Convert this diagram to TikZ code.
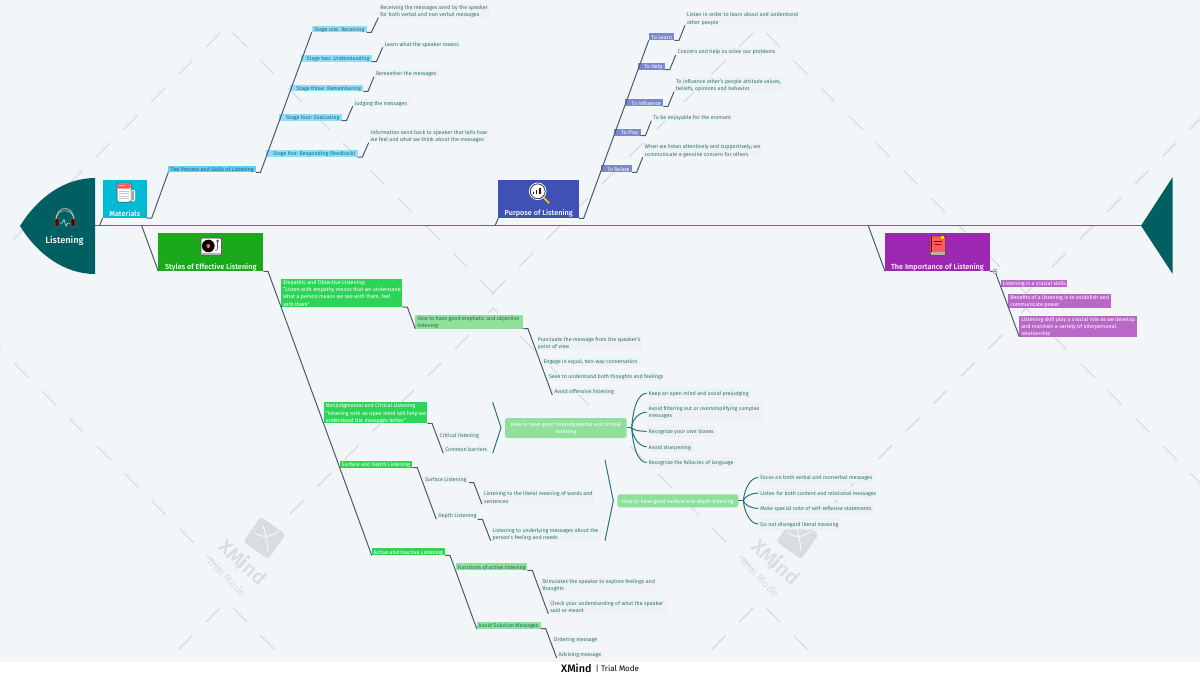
\documentclass[tikz,border=0pt]{standalone}
\usepackage{fontspec}
\setmainfont{Fira Sans}[BoldFont={Fira Sans Medium}]
\usetikzlibrary{calc}
\definecolor{bgc}{HTML}{F3F6F9}
\definecolor{wmc}{HTML}{D8DDE1}
\definecolor{headc}{HTML}{005F60}
\definecolor{spinec}{HTML}{3F7C85}
\definecolor{linec}{HTML}{4A5A6E}
\definecolor{tealt}{HTML}{2A7775}
\definecolor{darkt}{HTML}{1E6A68}
\definecolor{leafc}{HTML}{EFF1F3}
\definecolor{matc}{HTML}{00BBD6}
\definecolor{purc}{HTML}{3F51B5}
\definecolor{stylec}{HTML}{1BA81B}
\definecolor{impc}{HTML}{9C27B0}
\definecolor{blue1}{HTML}{67CCF7}
\definecolor{blue2}{HTML}{90DDFB}
\definecolor{ind2}{HTML}{7B87CF}
\definecolor{pur2}{HTML}{BA68C8}
\definecolor{gr1}{HTML}{2ED457}
\definecolor{gr2}{HTML}{8FE09B}
\tikzset{
  base/.style={inner sep=0pt,outer sep=0pt,font=\fontsize{5.35}{7.1}\selectfont},
  leaf/.style={base,fill=leafc,text=tealt},
  rleaf/.style={leaf,rounded corners=2.5pt},
  stage/.style={base,fill=blue2,text=darkt},
  proc/.style={base,fill=blue1,text=darkt},
  indb/.style={base,fill=ind2,text=white},
  purb/.style={base,fill=pur2,text=white},
  grb/.style={base,fill=gr1,text=white},
  grl/.style={base,fill=gr2,text=darkt},
  grr/.style={base,fill=gr2,text=white,rounded corners=2.5pt},
  mainbox/.style={inner sep=0pt,outer sep=0pt},
  maintxt/.style={inner sep=0pt,outer sep=0pt,text=white,font=\fontsize{7.3}{8}\selectfont\bfseries},
  branch/.style={draw=linec,line width=1pt},
  curve/.style={draw=spinec!70!headc,line width=1pt},
  wm/.style={draw=wmc,line width=1.4pt},
  wmtext/.style={inner sep=0pt,text=wmc},
}
\newcommand{\bxl}[7][0]{%
  \pgfmathsetmacro\bxw{#5-#3}\pgfmathsetmacro\bxh{#6-#4}%
  \node[#2,anchor=north west,minimum width=\bxw pt,minimum height=\bxh pt] (#7) at (#3,#4)
}
\newcommand{\shf}[1]{\smash{\raisebox{-2.05pt}{#1}}}
\newcommand{\lt}[2][2]{\shf{\makebox[\bxw pt][l]{\hspace{#1pt}\begin{tabular}{@{}l@{}}#2\end{tabular}}}}
\newcommand{\ct}[1]{\shf{\makebox[\bxw pt][c]{\begin{tabular}{@{}c@{}}#1\end{tabular}}}}
\newcommand{\rt}[1]{\shf{\makebox[\bxw pt][r]{\begin{tabular}{@{}r@{}}#1\end{tabular}\hspace{2.4pt}}}}
\newcommand{\dashes}[5]{\foreach \k in {0,...,#3} \draw[wm] ({#1+#4*27.5*\k/14},{#2+27.5*\k}) -- ++(#4,#5);}
\begin{document}
\begin{tikzpicture}[x=1pt,y=-1pt]
\useasboundingbox (0,0) rectangle (1200,677);
\fill[bgc] (0,0) rectangle (1200,677);
% watermark lattice
\dashes{233}{33}{9}{14}{14}
\dashes{766}{33}{9}{14}{14}
\dashes{220}{33}{9}{-14}{14}
\dashes{753}{33}{9}{-14}{14}
\dashes{1286}{33}{9}{-14}{14}
\dashes{-13}{336}{8}{14}{14}
\dashes{520}{336}{8}{14}{14}
\dashes{1053}{336}{5}{14}{14}
\dashes{469}{335}{8}{-14}{14}
\dashes{1002}{335}{8}{-14}{14}
\dashes{233}{608}{1}{14}{14}
\dashes{766}{608}{1}{14}{14}
\dashes{220}{608}{1}{-14}{14}
\dashes{753}{608}{1}{-14}{14}
\draw[wm] (488,313) -- (493,308) -- (498,313);
\draw[wm] (1021,313) -- (1026,308) -- (1031,313);
% watermark logos
\foreach \dx/\nm in {0/a,533/b}{
  \begin{scope}[shift={(\dx,0)}]
    \node[fill=wmc,minimum size=30.5pt,rounded corners=3pt,rotate=-35,inner sep=0pt] (logo\nm) at (264.5,538) {};
    \draw[bgc,line width=1.1pt,line cap=round] (255,533) .. controls (263,538) and (268,538) .. (279,531);
    \draw[bgc,line width=1.1pt,line cap=round] (263,525) .. controls (266,535) and (267,542) .. (268,551);
    \node[wmtext,rotate=-42,font=\fontsize{20}{21}\selectfont\bfseries] (wmx\nm) at (243.5,561.5) {XMind};
    \node[wmtext,rotate=-45,font=\fontsize{10.5}{11}\selectfont] (wmt\nm) at (226.5,577) {Trial Mode};
  \end{scope}
}
% spine, head, tail
\coordinate (spL) at (95,225.7);
\coordinate (spR) at (1141,225.7);
\draw[draw=spinec,line width=1.2pt] (spL) -- (spR);
\fill[headc] (20,226) .. controls (38,197) and (65,178) .. (95,178) -- (95,274) .. controls (65,274) and (38,255) .. (20,226) -- cycle;
\fill[headc] (1141,225.7) -- (1172.7,177) -- (1172.7,274) -- cycle;
\node[inner sep=0pt,text=white,font=\fontsize{9.2}{10}\selectfont\bfseries] (root) at (64.5,240.7) {Listening};
% headphones
\draw[gray!70!white,line width=1.1pt] (56,222) .. controls (55,204) and (75,204) .. (74,222);
\draw[white!70!gray,line width=.4pt] (56,222) .. controls (55,207) and (75,207) .. (74,222);
\fill[red!35!black,draw=gray!60,line width=.3pt,rounded corners=1pt] (55,218.5) rectangle (59,226.5);
\fill[red!35!black,draw=gray!60,line width=.3pt,rounded corners=1pt] (71,218.5) rectangle (75,226.5);
\draw[white,line width=.5pt] (60,223) -- (62,223) -- (64,219.5) -- (66,226) -- (68,223) -- (70,223);
% main boxes
\node[mainbox,fill=matc,anchor=north west,minimum width=44pt,minimum height=38pt] (materials) at (102.7,180) {};
\node[maintxt] (materialsT) at (124.7,213.7) {Materials};
\node[mainbox,fill=purc,anchor=north west,minimum width=80.7pt,minimum height=38.3pt] (purpose) at (498.3,180) {};
\node[maintxt] (purposeT) at (538.7,213.7) {Purpose of Listening};
\node[mainbox,fill=stylec,anchor=north west,minimum width=105pt,minimum height=38pt] (styles) at (158.3,233.3) {};
\node[maintxt] (stylesT) at (210.8,267) {Styles of Effective Listening};
\node[mainbox,fill=impc,anchor=north west,minimum width=105pt,minimum height=38pt] (importance) at (885,233.3) {};
\node[maintxt] (importanceT) at (937.5,267) {The Importance of Listening};
% icons
\draw[white!70!gray,line width=.4pt,fill=white,rounded corners=1pt] (130,190) rectangle (135,201);
\fill[gray!70] (131.5,191) rectangle (133.5,200);
\draw[gray!30!black,line width=.5pt,fill=white,rounded corners=1.2pt] (117,183) rectangle (131,202);
\fill[red!65!white,rounded corners=.8pt] (117.4,183.4) rectangle (130.6,188.5);
\fill[white!70!red] (118.5,184.6) rectangle (125,185.6);
\foreach \yy in {191,193.5,196,198.5} \draw[gray!45,line width=.5pt] (119,\yy) -- (129,\yy);
% turntable
\draw[gray!40!black,line width=.5pt,fill=white,rounded corners=1.2pt] (201,238) rectangle (221.5,255.5);
\fill[gray!60] (201.4,253) rectangle (221.1,255.1);
\fill[black] (208.3,246) circle (6.3);
\fill[red!70!white] (208.3,246) circle (2);
\fill[white] (208.3,246) circle (.5);
\fill[gray!70!black] (217.5,241) circle (1.5);
\draw[gray!70!black,line width=.7pt] (217.5,241) -- (217.5,249) -- (215.5,251);
% magnifier
\draw[yellow!70!orange,line width=1.6pt] (543,197) -- (549,203);
\draw[gray!30!black,line width=.4pt] (542,196) -- (544,198);
\draw[white,line width=.9pt] (537.7,191.3) circle (8.3);
\draw[gray!40!black,line width=.7pt,fill=white] (537.7,191.3) circle (7.4);
\fill[gray!20!black] (532.5,191.5) rectangle (534.3,194.2);
\fill[gray!20!black] (535.5,189.7) rectangle (537.3,194.2);
\fill[gray!20!black] (538.5,187.8) rectangle (540.5,194.2);
% book
\draw[gray!50!black,line width=.5pt,fill=red!65!white,rounded corners=1.5pt] (930,236) rectangle (945.5,255.5);
\fill[gray!60] (931,252) rectangle (945,255);
\fill[yellow!80!orange] (941,236.3) rectangle (943.5,239);
\fill[red!50!black] (934,241) rectangle (942,242);
\fill[red!50!black] (935,244) rectangle (941,245);
\draw[red!50!black,line width=.8pt] (931.7,237) -- (931.7,251.5);
% process branch
\bxl{proc}{168.3}{165.7}{256}{172.3}{process} {\ct{The Process and Skills of Listening}};
\bxl{stage}{311.7}{25.7}{366.7}{32.3}{st1} {\rt{Stage one: Receiving}};
\bxl{stage}{301}{55}{371.7}{61.7}{st2} {\rt{Stage two: Understanding}};
\bxl{stage}{290}{84.7}{363.3}{91.3}{st3} {\rt{Stage three: Remembering}};
\bxl{stage}{279.3}{114}{341.7}{120.7}{st4} {\rt{Stage four: Evaluating}};
\bxl{stage}{266}{150.3}{357.7}{157}{st5} {\rt{Stage five: Responding (feedback)}};
\bxl{leaf}{378.3}{4}{490}{17.7}{le1} {\lt{Receiving the messages send by the speaker\\for both verbal and non verbal messages}};
\bxl{leaf}{382.7}{40.7}{459.3}{47.3}{le2} {\lt{Learn what the speaker means}};
\bxl{leaf}{374}{70}{439.3}{76.7}{le3} {\lt{Remember the messages}};
\bxl{leaf}{352.7}{99.3}{411.7}{106.3}{le4} {\lt{Judging the messages}};
\bxl{leaf}{368.7}{128.7}{488.3}{142.7}{le5} {\lt{Information send back to speaker that tells how\\we feel and what we think about the messages}};
% purpose branch
\bxl{indb}{648.7}{33.3}{674.3}{40.3}{pu1} {\rt{To Learn}};
\bxl{indb}{637.7}{62.7}{665}{69.7}{pu2} {\rt{To Help}};
\bxl{indb}{624.7}{99.3}{663.3}{106.3}{pu3} {\rt{To Influence}};
\bxl{indb}{613.7}{128.7}{640.7}{135.7}{pu4} {\rt{To Play}};
\bxl{indb}{600.7}{165.3}{632}{172.3}{pu5} {\rt{To Relate}};
\bxl{leaf}{685}{11.3}{798.3}{25.3}{pl1} {\lt{Listen in order to learn about and understand\\other people}};
\bxl{leaf}{675.7}{48.3}{776.7}{55}{pl2} {\lt{Concern and help us solve our problems}};
\bxl{leaf}{674}{77.3}{782.7}{91.7}{pl3} {\lt{To influence other's people attitude values,\\beliefs, opinions and behavior}};
\bxl{leaf}{651.3}{114}{731.7}{120.7}{pl4} {\lt{To be enjoyable for the moment}};
\bxl{leaf}{642.7}{143.3}{762.3}{157.3}{pl5} {\lt{When we listen attentively and supportively, we\\communicate a genuine concern for others}};
% importance
\bxl{purb}{1000.7}{279.7}{1066.7}{286.7}{im1} {\lt{Listening is a crucial skills}};
\bxl{purb}{1008.3}{294}{1110.7}{308}{im2} {\lt{Benefits of a listening is to establish and\\communicate power}};
\bxl{purb}{1019.3}{315.7}{1137.3}{336.7}{im3} {\lt{Listening skill play a crucial role as we develop\\and maintain a variety of interpersonal\\relationship}};
% styles
\bxl{grb}{281.3}{279.3}{402.3}{307}{em} {\lt{Empathic and Objective Listening:\\"Listen with empathy means that we understand\\what a person means we see with them, feel\\with them"}};
\bxl{grl}{415.3}{315}{523.3}{328.7}{emh} {\lt{How to have good emphatic and objective\\listening}};
\bxl{leaf}{535.8}{335}{642}{350}{em1} {\lt{Punctuate the message from the speaker's\\point of view}};
\bxl{leaf}{541.6}{357.5}{640.5}{366}{em2} {\lt{Engage in equal, two-way conversation}};
\bxl{leaf}{547}{372.5}{663}{381}{em3} {\lt{Seek to understand both thoughts and feelings}};
\bxl{leaf}{552.3}{388}{616.7}{395}{em4} {\lt{Avoid offensive listening}};
\bxl{grb}{323.7}{402.3}{427.3}{423.3}{no} {\lt{Nonjudgmental and Critical Listening\\"listening with an open mind will help we\\understand the messages better"}};
\bxl{leaf}{437.7}{431.3}{481}{438.7}{no1} {\lt{Critical listening}};
\bxl{leaf}{443.3}{446}{488.3}{453.3}{no2} {\lt{Common barriers}};
\bxl{grr}{505}{418}{626.7}{438}{noh} {\ct{How to have good nonjudgmental and critical\\listening}};
\bxl{rleaf}{646.7}{388}{751}{398.7}{na} {\lt{Keep an open mind and avoid prejudging}};
\bxl{rleaf}{646.7}{402.7}{762.7}{421.7}{nb} {\lt{Avoid filtering out or oversimplifying complex\\messages}};
\bxl{rleaf}{646.7}{425.7}{716}{437}{nc} {\lt{Recognize your own biases}};
\bxl{rleaf}{646.7}{441.3}{694.3}{452.3}{nd} {\lt{Avoid sharpening}};
\bxl{rleaf}{646.7}{457}{737}{468}{ne} {\lt{Recognize the fallacies of language}};
\bxl{grb}{339.7}{461}{412.3}{467.7}{su} {\lt{Surface and Depth Listening}};
\bxl{leaf}{423}{475.7}{469}{482.7}{su1} {\lt{Surface Listening}};
\bxl{leaf}{436.3}{512}{477.7}{519.3}{su2} {\lt{Depth Listening}};
\bxl{leaf}{482}{490.3}{594.3}{504.3}{su1a} {\lt{Listening to the literal meaning of words and\\sentences}};
\bxl{leaf}{490.7}{526.7}{601.3}{540.7}{su2a} {\lt{Listening to underlying messages about the\\person's feeling and needs}};
\bxl{grr}{617.3}{494.3}{738.3}{507.3}{suh} {\ct{How to have good surface and depth listening}};
\bxl{rleaf}{758.3}{472}{875}{483}{sa} {\lt{Focus on both verbal and nonverbal messages}};
\bxl{rleaf}{758.3}{487.3}{877.3}{498.7}{sb} {\lt{Listen for both content and relational messages}};
\bxl{rleaf}{758.3}{503}{874.3}{514}{sc} {\lt{Make special note of self-reflexive statements}};
\bxl{rleaf}{758.3}{518.3}{841}{529.7}{sd} {\lt{Do not disregard literal meaning}};
\bxl{grb}{371.7}{548.3}{445}{555.3}{ac} {\lt{Active and Inactive Listening}};
\bxl{grl}{455.7}{563.3}{527.3}{570.3}{ac1} {\lt{Functions of active listening}};
\bxl{grl}{476.7}{621.7}{540.7}{628.7}{ac2} {\lt{Avoid Solution Messages}};
\bxl{leaf}{540.3}{578}{657}{592}{ac1a} {\lt{Stimulates the speaker to explore feelings and\\thoughts}};
\bxl{leaf}{548.3}{599.7}{666.7}{613.7}{ac1b} {\lt{Check your understanding of what the speaker\\said or meant}};
\bxl{leaf}{551.7}{636}{599.3}{643.3}{ac2a} {\lt{Ordering message}};
\bxl{leaf}{556.7}{650.7}{604.3}{658}{ac2b} {\lt{Advising message}};
% connectors
\coordinate (sp1) at (99.5,225.7);
\coordinate (sp2) at (495,225.7);
\coordinate (sp3) at (141.7,225.7);
\coordinate (sp4) at (868.3,225.7);
\draw[branch] (sp1) -- (materials.south west);
\draw[branch] (sp2) -- (purpose.south west);
\draw[branch] (sp3) -- (styles.south west);
\draw[branch] (sp4) -- (importance.south west);
\draw[branch] (materials.south east) -- ++(5,0) -- (process.south west);
\draw[branch] (process.south east) -- ++(4.5,0) -- (st1.south west);
\draw[branch] (st1.south east) -- ++(4.7,0) -- (le1.south west);
\draw[branch] (st2.south east) -- ++(4.7,0) -- (le2.south west);
\draw[branch] (st3.south east) -- ++(4.7,0) -- (le3.south west);
\draw[branch] (st4.south east) -- ++(4.7,0) -- (le4.south west);
\draw[branch] (st5.south east) -- ++(4.7,0) -- (le5.south west);
\draw[branch] (purpose.south east) -- ++(4.7,0) -- (pu1.south west);
\draw[branch] (pu1.south east) -- ++(4.7,0) -- (pl1.south west);
\draw[branch] (pu2.south east) -- ++(4.7,0) -- (pl2.south west);
\draw[branch] (pu3.south east) -- ++(4.7,0) -- (pl3.south west);
\draw[branch] (pu4.south east) -- ++(4.7,0) -- (pl4.south west);
\draw[branch] (pu5.south east) -- ++(4.7,0) -- (pl5.south west);
\draw[branch] (importance.south east) -- ++(5,0) coordinate (impc1) -- (im3.south west);
\draw[draw=gray!80!black,line width=.4pt,fill=white] (impc1) circle (2.2);
\draw[gray!80!black,line width=.4pt] ($(impc1)+(-1.2,0)$) -- ($(impc1)+(1.2,0)$);
\draw[branch] (styles.south east) -- ++(4.7,0) -- (ac.south west);
\draw[branch] (em.south east) -- ++(5,0) -- (emh.south west);
\draw[branch] (emh.south east) -- ++(4.7,0) -- (em4.south west);
\draw[branch] (no.south east) -- ++(4.7,0) -- (no2.south west);
\draw[branch] (su.south east) -- ++(5,0) -- (su2.south west);
\draw[branch] (su1.south east) -- ++(4.7,0) -- (su1a.south west);
\draw[branch] (su2.south east) -- ++(4.7,0) -- (su2a.south west);
\draw[branch] (ac.south east) -- ++(5,0) -- (ac2.south west);
\draw[branch] (ac1.south east) -- ++(5,0) -- (ac1b.south west);
\draw[branch] (ac2.south east) -- ++(5,0) -- (ac2b.south west);
% brackets
\coordinate (brn) at (501,427.7);
\coordinate (brs) at (613.3,500.7);
\draw[curve] (492.7,402.3) -- (brn) -- (492.7,453.3);
\draw[curve] (605,460) -- (brs) -- (605,540.7);
% curved connectors
\coordinate (jn) at (631.7,427.7);
\coordinate (js) at (743.3,500.7);
\draw[curve] (noh.east |- jn) -- (jn);
\draw[curve] (suh.east |- js) -- (js);
\draw[curve] (jn) .. controls +(1.5,-22) and +(-8,0) .. (na.west);
\draw[curve] (jn) .. controls +(.5,-9) and +(-7,0) .. (nb.west);
\draw[curve] (jn) .. controls +(1,2.5) and +(-7,0) .. (nc.west);
\draw[curve] (jn) .. controls +(1,10) and +(-7,0) .. (nd.west);
\draw[curve] (jn) .. controls +(1.5,22) and +(-8,0) .. (ne.west);
\draw[curve] (js) .. controls +(1.5,-14) and +(-7,0) .. (sa.west);
\draw[curve] (js) .. controls +(1,-4) and +(-7,0) .. (sb.west);
\draw[curve] (js) .. controls +(1,4) and +(-7,0) .. (sc.west);
\draw[curve] (js) .. controls +(1.5,14) and +(-7,0) .. (sd.west);
% bottom band
\fill[white] (0,661.7) rectangle (1200,677);
\node[inner sep=0pt,anchor=west,text=black,font=\fontsize{10.8}{11}\selectfont\bfseries] (bx) at (561,668.5) {XMind};
\node[inner sep=0pt,anchor=west,text=black,font=\fontsize{8}{10}\selectfont] (bt) at (595.5,668.5) {| Trial Mode};
\end{tikzpicture}
\end{document}
